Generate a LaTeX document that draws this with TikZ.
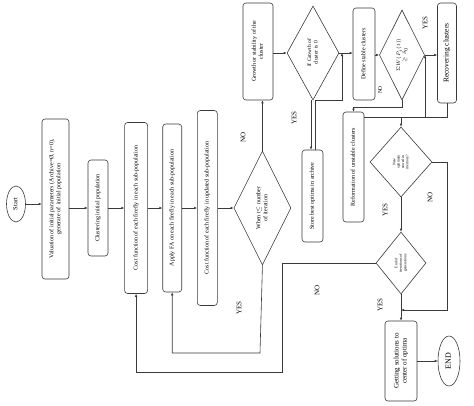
\documentclass[tikz,border=0pt]{standalone}
\usepackage{fontspec}
\setmainfont{Liberation Serif}
\usepackage{graphicx}
\usetikzlibrary{positioning,arrows.meta,calc,shapes.geometric}
\definecolor{FCLine}{HTML}{3A3A3A}
\newcommand{\vtext}[1]{\rotatebox{90}{\begin{tabular}{@{}c@{}}#1\end{tabular}}}

\begin{document}
\begin{tikzpicture}[
    x=1pt, y=1pt,
    node distance=15pt,
    fcbox/.style={
      draw=FCLine,
      line width=0.6pt,
      rounded corners=3pt,
      inner sep=0pt,
      font=\fontsize{6}{7}\selectfont
    },
    fcdiam/.style={
      draw=FCLine,
      line width=0.6pt,
      diamond,
      inner sep=0pt,
      font=\fontsize{5}{6}\selectfont
    },
    fcterm/.style={
      draw=FCLine,
      line width=0.6pt,
      ellipse,
      inner sep=0pt,
      font=\fontsize{6.5}{7.5}\selectfont
    },
    fcarrow/.style={
      -{Latex[length=3pt,width=2.6pt]},
      line width=0.6pt,
      FCLine
    },
    fcline/.style={line width=0.6pt, FCLine},
    fclabel/.style={font=\fontsize{7}{8}\selectfont, inner sep=0pt}
  ]
  \useasboundingbox (0,0) rectangle (474,-405);

  % main row
  \node[fcterm, minimum width=19pt, minimum height=36pt] (start) at (16,-204) {\vtext{Start}};
  \node[fcbox, minimum width=27pt, minimum height=160pt] (valu) at (55.5,-199)
    {\vtext{Valuation of initial parameters (Archive=Ø, n=0),\\ generate of \ initial population}};
  \node[fcbox, minimum width=20pt, minimum height=96pt] (clust) at (98,-208) {\vtext{Clustering initial population}};
  \node[fcbox, minimum width=23pt, minimum height=171pt, right=16pt of clust] (cost1)
    {\vtext{Cost function of each firefly in each sub-population}};
  \node[fcbox, minimum width=19pt, minimum height=168pt, right=14.5pt of cost1] (apply)
    {\vtext{Apply FA on each firefly in each sub-population}};
  \node[fcbox, minimum width=20pt, minimum height=195pt, right=15pt of apply] (upd)
    {\vtext{Cost function of each firefly in updated sub-population}};
  \node[fcdiam, minimum width=56pt, minimum height=114pt, right=16pt of upd, font=\fontsize{6}{7}\selectfont] (iter)
    {\vtext{When t$\leq$ number\\ of iteration}};

  % upper part
  \node[fcbox, minimum width=30pt, minimum height=97pt] (growth) at (258,-51.5)
    {\vtext{Growth or stability of the\\ cluster}};
  \node[fcdiam, minimum width=52pt, minimum height=94pt, font=\fontsize{5.5}{6.5}\selectfont] (gzero) at (313,-53)
    {\vtext{If Growth of\\ cluster is 0}};
  \node[fcbox, minimum width=21pt, minimum height=92pt] (store) at (312.5,-196) {\vtext{Store best optima in archive}};
  \node[fcbox, minimum width=22pt, minimum height=92pt] (define) at (364,-54) {\vtext{Define stable clusters}};
  \node[fcdiam, minimum width=41pt, minimum height=90pt] (sw) at (402,-55)
    {\vtext{$\Sigma W(P_i(t))$\\ $\geq \delta_0$}};
  \node[fcbox, minimum width=19pt, minimum height=100pt, font=\fontsize{7.5}{8.5}\selectfont] (recov) at (447,-53)
    {\vtext{Recovering clusters}};
  \node[fcbox, minimum width=21pt, minimum height=110pt] (reform) at (353.5,-167) {\vtext{Reformation of unstable clusters}};

  % right part
  \node[fcdiam, minimum width=62pt, minimum height=70pt, font=\fontsize{3.8}{4.4}\selectfont] (newopt) at (401,-162)
    {\vtext{New\\ optimum\\ stored in\\ memory?}};
  \node[fcdiam, minimum width=50pt, minimum height=62pt, font=\fontsize{3.8}{4.4}\selectfont] (endit) at (401,-263)
    {\vtext{End of\\ iterations of\\ generations}};
  \node[fcbox, minimum width=32pt, minimum height=80pt, font=\fontsize{7}{8}\selectfont] (getsol) at (401,-361)
    {\vtext{Getting solutions to\\ center of optima}};
  \node[fcterm, minimum width=22pt, minimum height=50pt, font=\fontsize{8}{9}\selectfont] (endn) at (449,-361) {\vtext{END}};

  % labels
  \node[fclabel] (lnoA) at (243,-137) {\rotatebox{90}{NO}};
  \node[fclabel] (lyesA) at (294,-118) {\rotatebox{90}{YES}};
  \node[fclabel] (lyesB) at (425,-23) {\rotatebox{90}{YES}};
  \node[fclabel, font=\fontsize{5.5}{6}\selectfont] (lnoB) at (380,-90) {\rotatebox{90}{NO}};
  \node[fclabel] (lnoC) at (430,-197) {\rotatebox{90}{NO}};
  \node[fclabel] (lyesC) at (385,-210) {\rotatebox{90}{YES}};
  \node[fclabel] (lyesD) at (380,-305) {\rotatebox{90}{YES}};
  \node[fclabel] (lnoD) at (317,-290) {\rotatebox{90}{NO}};
  \node[fclabel] (lyesE) at (239,-308) {\rotatebox{90}{YES}};

  % main flow
  \draw[fcarrow] (start.east) -- (start.east -| valu.west);
  \draw[fcarrow] (valu.east |- clust.west) -- (clust.west);
  \draw[fcarrow] (clust) -- (cost1);
  \draw[fcarrow] (cost1) -- (apply);
  \draw[fcarrow] (apply) -- (upd);
  \draw[fcarrow] (upd) -- (iter);
  \draw[fcarrow] (iter.north) -- (iter.north |- growth.south);
  \draw[fcarrow] (growth.east |- gzero.west) -- (gzero.west);

  % growth test
  \coordinate (gzyes) at ([xshift=-2pt]gzero.south);
  \draw[fcarrow] (gzyes) -- (gzyes |- store.north);
  \coordinate (stup) at ([xshift=3pt]store.north);
  \coordinate (gzloop) at (342,-100);
  \draw[fcarrow] (stup) |- (gzloop) -- (gzloop |- gzero.east);
  \draw[fcarrow] (gzero.east) -- (gzero.east -| define.west);
  \draw[fcarrow] (define.east |- sw.west) -- (sw.west);
  \draw[fcarrow] (sw.east) -- (sw.east -| recov.west);
  \coordinate (reknee) at (353.5,-107);
  \draw[fcarrow] (sw.south) |- (reknee) -- (reform.north);

  % merge into memory test
  \coordinate (mergeL) at (364,-117);
  \coordinate (mergeA) at (401,-117);
  \coordinate (mergeB) at (425,-117);
  \draw[fcline] (mergeL) -| (recov.south);
  \draw[fcarrow] (mergeA) -- (newopt.north);
  \draw[fcarrow] (mergeB) -- (mergeB |- sw.east);
  \draw[fcarrow] (newopt.south) -- (endit.north);
  \coordinate (noknee) at (447,-310);
  \draw[fcarrow] (newopt.east) -| (noknee) -- (noknee -| getsol.north);
  \draw[fcarrow] (endit.south) -- (getsol.north);
  \draw[fcarrow] (getsol) -- (endn);

  % loops back
  \coordinate (loopA) at (282,-372);
  \draw[fcarrow] (endit.west) -| (loopA) -| (cost1.south);
  \coordinate (loopB) at (260,-353);
  \draw[fcarrow] (iter.south) -- (loopB) -| (apply.south);

\end{tikzpicture}
\end{document}
